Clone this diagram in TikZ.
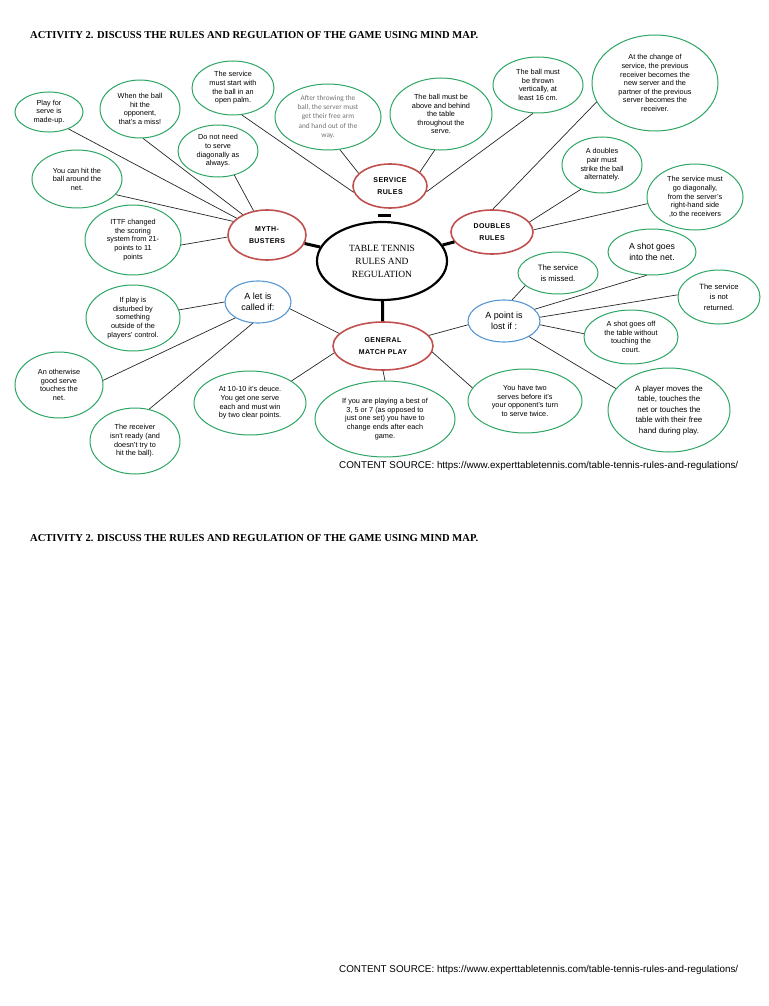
\documentclass[tikz,border=0pt]{standalone}
\usepackage{fontspec}
\usepackage{graphicx}
\setmainfont{Liberation Sans}
\newfontfamily\serifface{Liberation Serif}
\newfontfamily\calfont{Carlito}
\newfontfamily\hubfont[LetterSpace=6]{Liberation Sans}
\usetikzlibrary{shapes.geometric}
\definecolor{bgreen}{RGB}{45,165,100}
\definecolor{bred}{RGB}{192,80,77}
\definecolor{bblue}{RGB}{85,150,212}
\begin{document}
\begin{tikzpicture}[x=1pt,y=-1pt,
  sz/.style 2 args={minimum width=#1, minimum height=#2},
  bub/.style={ellipse, draw=bgreen, line width=1pt, inner sep=0pt, align=center, font=\fontsize{7.3}{8.6}\selectfont},
  hub/.style={ellipse, draw=bred, line width=1.6pt, inner sep=0pt, align=center, font=\hubfont\fontsize{7}{12}\selectfont\bfseries},
  sub/.style={ellipse, draw=bblue, line width=1.1pt, inner sep=0pt, align=center, font=\fontsize{9}{11.5}\selectfont},
  link/.style={draw=black!85, line width=0.7pt},
  boldlink/.style={draw=black, line width=3pt},
  caption/.style={inner sep=0pt, anchor=west}]
\useasboundingbox (0,0) rectangle (768,1006);

% titles and sources
\node[caption] (title1) at (30,35) {\resizebox{448pt}{!}{\serifface\bfseries ACTIVITY 2. DISCUSS THE RULES AND REGULATION OF THE GAME USING MIND MAP.}};
\node[caption] (src1) at (339,466) {\resizebox{399pt}{!}{\fontsize{8}{9}\selectfont CONTENT SOURCE: https://www.experttabletennis.com/table-tennis-rules-and-regulations/}};
\node[caption] (title2) at (30,538) {\resizebox{448pt}{!}{\serifface\bfseries ACTIVITY 2. DISCUSS THE RULES AND REGULATION OF THE GAME USING MIND MAP.}};
\node[caption] (src2) at (339,970) {\resizebox{399pt}{!}{\fontsize{8}{9}\selectfont CONTENT SOURCE: https://www.experttabletennis.com/table-tennis-rules-and-regulations/}};

% centre
\node[ellipse, draw, line width=2.2pt, sz={130}{78}, inner sep=0pt, align=center, font=\serifface\fontsize{9.5}{13}\selectfont] (core) at (382,261) {TABLE TENNIS\\RULES AND\\REGULATION};

% main branches
\node[hub, sz={74}{44}] (serv) at (390,186) {SERVICE\\RULES};
\node[hub, sz={78}{50}] (myth) at (267,235) {MYTH-\\BUSTERS};
\node[hub, sz={82}{44}] (dbl) at (492,232) {DOUBLES\\RULES};
\node[hub, sz={100}{48}] (gmp) at (383,346) {GENERAL\\MATCH PLAY};

\node[sub, sz={66}{42}] (let) at (258,302) {A let is\\called if:};
\node[sub, sz={72}{42}] (pt) at (504,321) {A point is\\lost if :};

% leaves
\node[bub, sz={68}{40}] (p1) at (49,112) {Play for\\serve is\\made-up.};
\node[bub, sz={80}{58}] (p2) at (140,109) {When the ball\\hit the\\opponent,\\that's a miss!};
\node[bub, sz={82}{54}] (p3) at (233,88) {The service\\must start with\\the ball in an\\open palm.};
\node[bub, sz={80}{52}] (p4) at (218,151) {Do not need\\to serve\\diagonally as\\always.};
\node[bub, sz={106}{66}, font=\calfont\fontsize{7.3}{9.3}\selectfont, text=black!55] (p5) at (328,117) {After throwing the\\ball, the server must\\get their free arm\\and hand out of the\\way.};
\node[bub, sz={102}{72}] (p6) at (441,114) {The ball must be\\above and behind\\the table\\throughout the\\serve.};
\node[bub, sz={90}{56}] (p7) at (538,85) {The ball must\\be thrown\\vertically, at\\least 16 cm.};
\node[bub, sz={126}{96}] (p8) at (655,83) {At the change of\\service, the previous\\receiver becomes the\\new server and the\\partner of the previous\\server becomes the\\receiver.};
\node[bub, sz={80}{56}] (p9) at (602,165) {A doubles\\pair must\\strike the ball\\alternately.};
\node[bub, sz={96}{66}] (p10) at (695,197) {The service must\\go diagonally,\\from the server's\\right-hand side\\,to the receivers};
\node[bub, sz={90}{58}] (p11) at (77,179) {You can hit the\\ball around the\\net.};
\node[bub, sz={96}{70}] (p12) at (133,240) {ITTF changed\\the scoring\\system from 21-\\points to 11\\points};
\node[bub, sz={94}{66}] (p13) at (133,318) {If play is\\disturbed by\\something\\outside of the\\players' control.};
\node[bub, sz={88}{66}] (p14) at (59,385) {An otherwise\\good serve\\touches the\\net.};
\node[bub, sz={90}{66}] (p15) at (135,441) {The receiver\\isn't ready (and\\doesn't try to\\hit the ball).};
\node[bub, sz={112}{64}] (p16) at (250,403) {At 10-10 it's deuce.\\You get one serve\\each and must win\\by two clear points.};
\node[bub, sz={140}{76}] (p17) at (385,419) {If you are playing a best of\\3, 5 or 7 (as opposed to\\just one set) you have to\\change ends after each\\game.};
\node[bub, sz={114}{64}] (p18) at (525,401) {You have two\\serves before it's\\your opponent's turn\\to serve twice.};
\node[bub, sz={122}{84}, font=\fontsize{7.9}{10.5}\selectfont] (p19) at (669,410) {A player moves the\\table, touches the\\net or touches the\\table with their free\\hand during play.};
\node[bub, sz={80}{42}, font=\fontsize{7.8}{11}\selectfont] (p20) at (558,273) {The service\\is missed.};
\node[bub, sz={88}{46}, font=\fontsize{8.7}{11.5}\selectfont] (p21) at (652,252) {A shot goes\\into the net.};
\node[bub, sz={82}{54}, font=\fontsize{7.6}{10.7}\selectfont] (p22) at (719,297) {The service\\is not\\returned.};
\node[bub, sz={94}{54}] (p23) at (631,337) {A shot goes off\\the table without\\touching the\\court.};

% thick links from the centre
\draw[boldlink] (core) -- (myth);
\draw[boldlink] (core) -- (dbl);
\draw[boldlink] (core) -- (gmp);
\draw[boldlink] (378,215) -- (391,215);

% myth-busters
\draw[link] (p1.319) -- (myth.151);
\draw[link] (p2.276) -- (myth.140);
\draw[link] (p4.304) -- (myth.119);
\draw[link] (p11.338) -- (myth.158);
\draw[link] (p12.354) -- (myth.183);

% service rules
\draw[link] (p3.288) -- (serv.190);
\draw[link] (p5.290) -- (serv.158);
\draw[link] (p6.260) -- (serv.25);
\draw[link] (p7.260) -- (serv.351);

% doubles rules
\draw[link] (p8.198) -- (dbl.88);
\draw[link] (p9.229) -- (dbl.15);
\draw[link] (p10.188) -- (dbl.3);

% general match play
\draw[link] (gmp.164) -- (let.348);
\draw[link] (gmp.13) -- (pt.186);
\draw[link] (gmp.188) -- (p16.28);
\draw[link] (gmp.270) -- (p17.90);
\draw[link] (gmp.353) -- (p18.166);

% a let
\draw[link] (let.180) -- (p13.10);
\draw[link] (let.215) -- (p14.6);
\draw[link] (let.256) -- (p15.66);

% a point
\draw[link] (pt.69) -- (p20.201);
\draw[link] (pt.21) -- (p21.257);
\draw[link] (pt.6) -- (p22.177);
\draw[link] (pt.354) -- (p23.176);
\draw[link] (pt.328) -- (p19.158);
\end{tikzpicture}
\end{document}
